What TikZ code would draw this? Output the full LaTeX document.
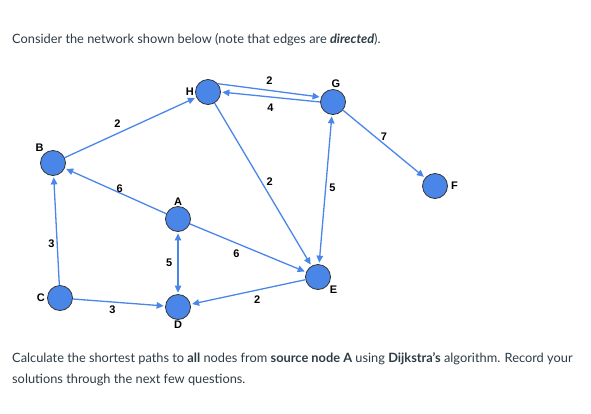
\documentclass[tikz,border=0pt]{standalone}
\usepackage{fontspec}
\setmainfont{Lato}
\newfontfamily\graphfont{Liberation Sans}
\usetikzlibrary{arrows.meta, positioning}
\definecolor{gblue}{RGB}{74,134,232}
\definecolor{canvastext}{RGB}{45,59,69}

\begin{document}
\begin{tikzpicture}[x=1pt, y=-1pt,
    vertex/.style={circle, draw=black!80, fill=gblue, minimum size=25pt, inner sep=0pt, line width=0.8pt},
    wt/.style={font=\graphfont\bfseries\fontsize{11}{13}\selectfont, inner sep=1pt},
    link/.style={draw=gblue, line width=1.3pt, >={Triangle[length=7pt,width=6.5pt]}, shorten >=1.5pt, shorten <=0pt},
    every label/.style={font=\graphfont\bfseries\fontsize{11}{13}\selectfont, inner sep=1pt}]
    \useasboundingbox (0,0) rectangle (591,413);

    % TEXT
    \node (intro) [anchor=west, inner sep=0pt, text=canvastext, font=\fontsize{12.8}{15}\selectfont] at (12,40)
        {Consider the network shown below (note that edges are \textbf{\textit{directed}}).};
    \node (task) [anchor=north west, inner sep=0pt, align=left, text=canvastext, font=\fontsize{12.8}{21.5}\selectfont] at (12,352)
        {Calculate the shortest paths to \textbf{all} nodes from \textbf{source node A} using \textbf{Dijkstra's} algorithm. Record your\\
         solutions through the next few questions.};

    % NODES
    \node (H) [vertex, label=left:H] at (208,92) {};
    \node (G) [vertex, label={[xshift=3pt]above:G}] at (333,102) {};
    \node (B) [vertex, label=130:B] at (53,163) {};
    \node (A) [vertex, label={[inner sep=0pt]above:A}] at (178,219) {};
    \node (C) [vertex, label={[inner sep=2pt]left:C}] at (60,298) {};
    \node (D) [vertex, label=below:D] at (178,307) {};
    \node (E) [vertex, label=-35:E] at (318,277) {};
    \node (F) [vertex, label={[inner sep=3pt]right:F}] at (435,186) {};

    % EDGES
    \draw[link, ->] (B) -- node[wt, pos=.4, above=4pt] {2} (H);
    \draw[link, ->] (H.40) -- node[wt, above=4pt] {2} (G.158);
    \draw[link, ->] (G.west) -- node[wt, below=5pt] {4} (H.east);
    \draw[link, ->] (H) -- node[wt, pos=.48, right=4pt] {2} (E);
    \draw[link, ->] (A) -- node[wt, pos=.46, above=-1pt] {6} (B);
    \draw[link, ->] (A) -- node[wt, pos=.4, below=5pt] {6} (E);
    \draw[link, <->, shorten <=1.5pt] (A) -- node[wt, left=4pt] {5} (D);
    \draw[link, ->] (C) -- node[wt, pos=.38, left=1pt] {3} (B);
    \draw[link, ->] (C) -- node[wt, pos=.43, below=2pt] {3} (D);
    \draw[link, ->] (E) -- node[wt, pos=.42, below=4pt] {2} (D);
    \draw[link, <->, shorten <=1.5pt] (E) -- node[wt, pos=.51, right=2pt] {5} (G);
    \draw[link, ->] (G) -- node[wt, pos=.5, above=2pt] {7} (F);
\end{tikzpicture}
\end{document}
